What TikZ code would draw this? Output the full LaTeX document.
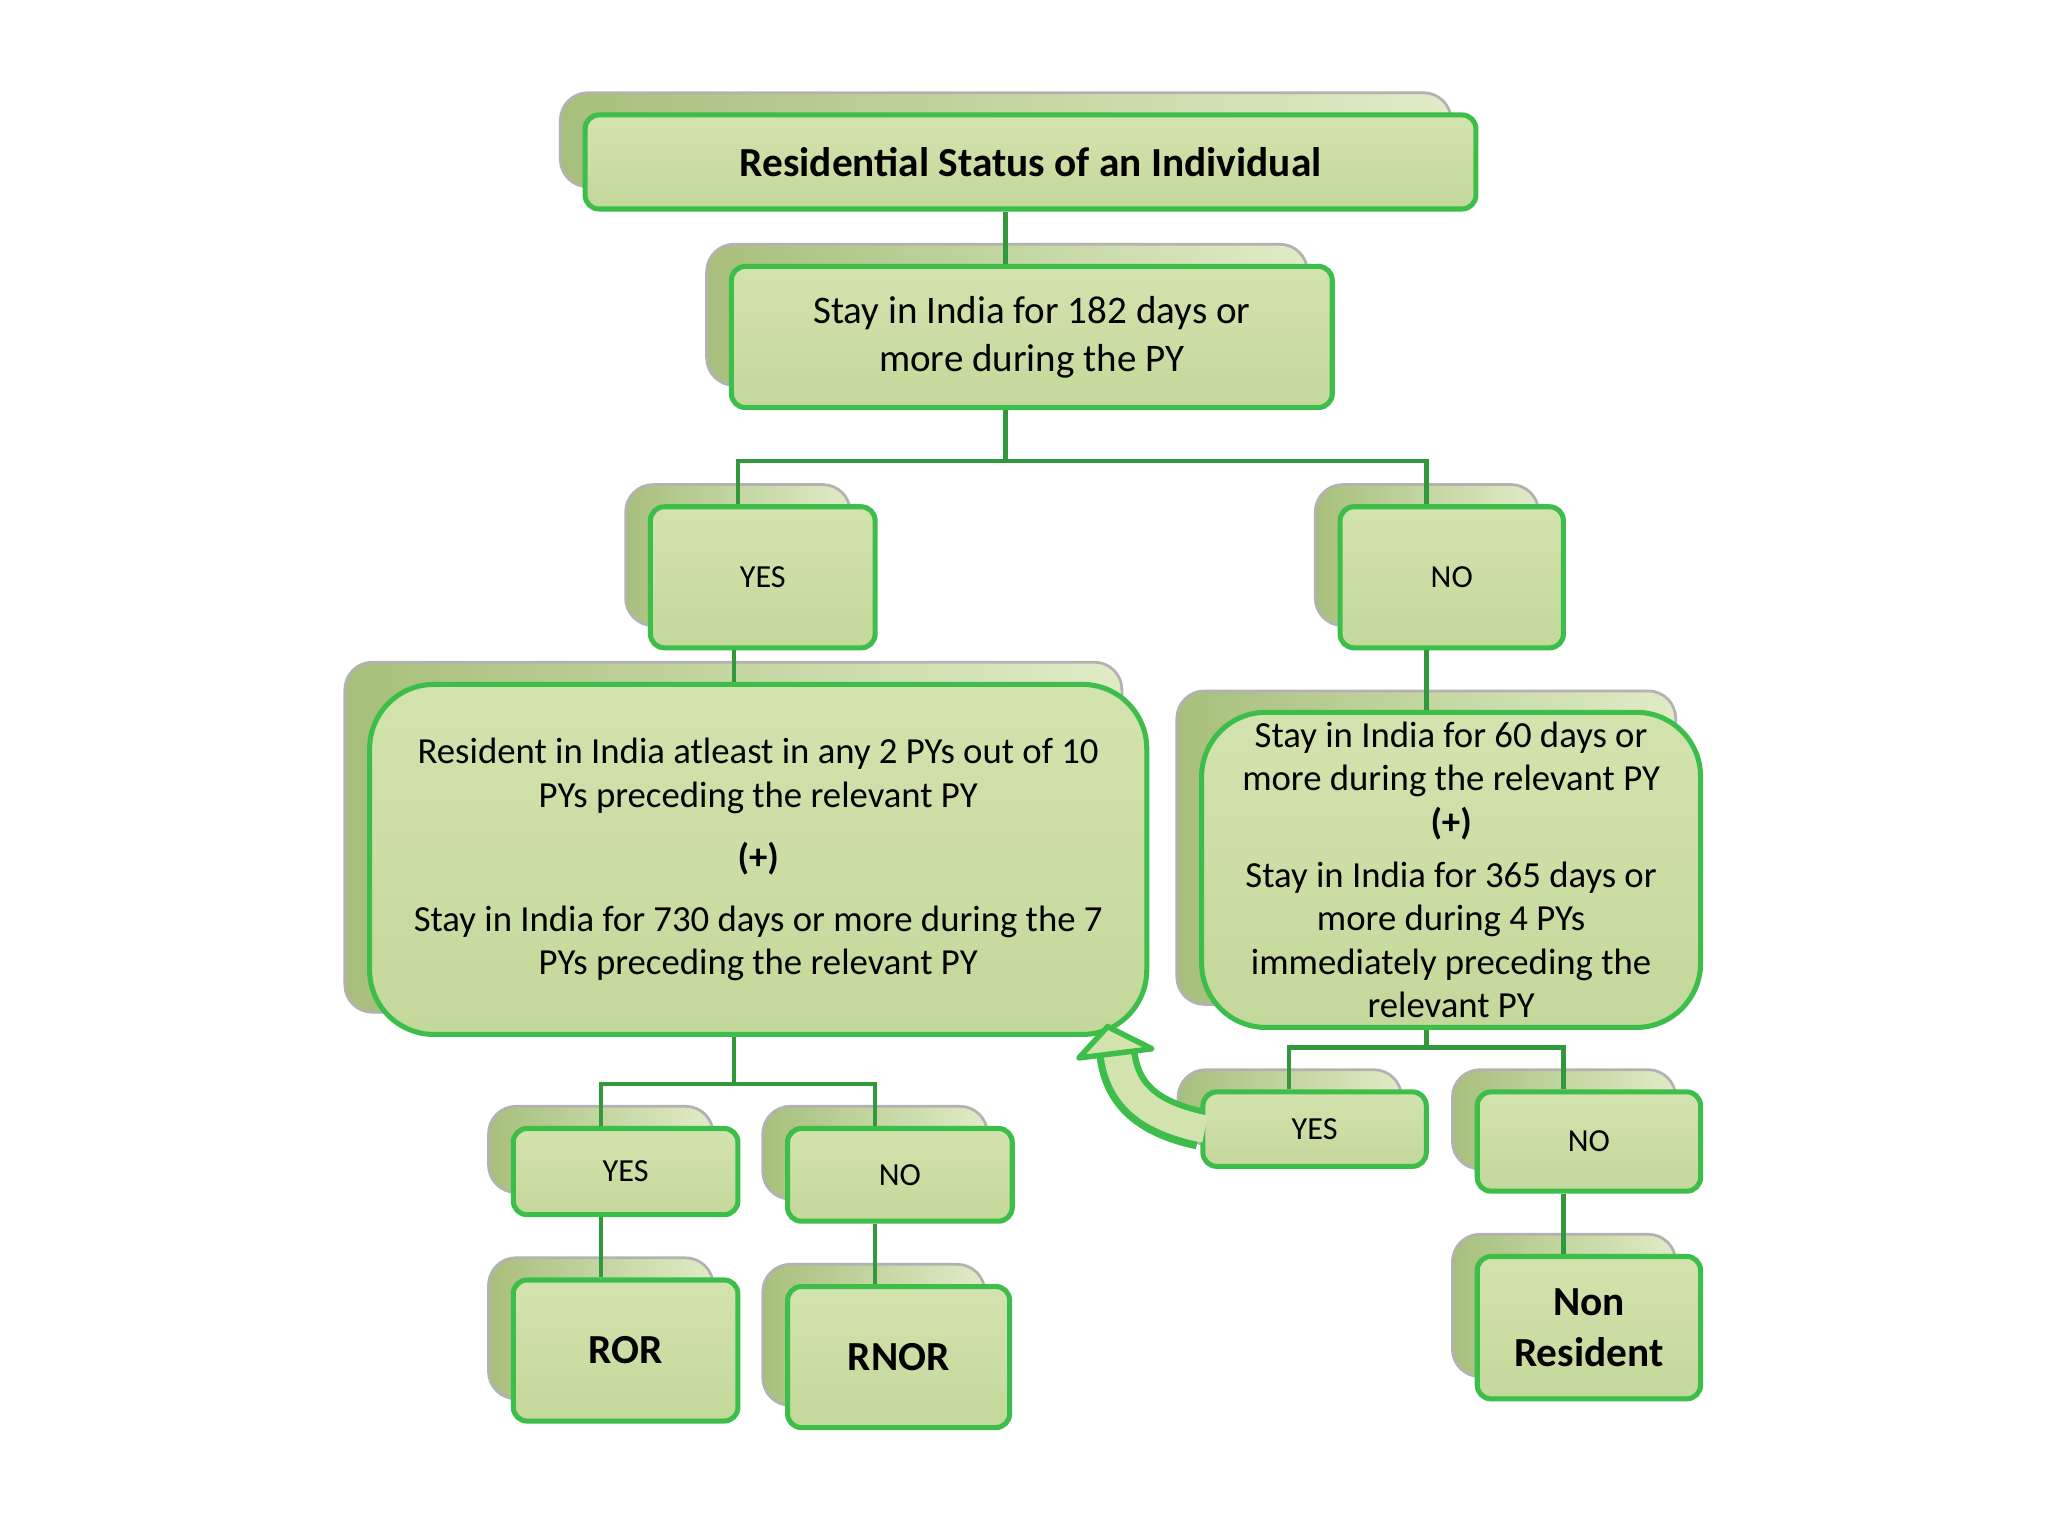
\documentclass[tikz,border=0pt]{standalone}
\usepackage{fontspec}
\setmainfont{Carlito}
\begin{document}
\definecolor{gb}{HTML}{3DBE4B}
\definecolor{lf}{HTML}{D3E3AE}
\definecolor{lf2}{HTML}{C3D89A}
\definecolor{bk}{HTML}{A7BF7C}
\begin{tikzpicture}[x=0.01cm,y=-0.01cm,
  front/.style={draw=gb,line width=1.1pt,rounded corners=3pt,top color=lf,bottom color=lf2,align=center,inner sep=2pt,font=\fontsize{8}{9.5}\selectfont},
  back/.style={draw=gray!60,line width=0.6pt,rounded corners=6pt,left color=bk,right color=lf!70},
  conn/.style={draw=gb!80!black,line width=1pt}]
\useasboundingbox (0,0) rectangle (1568,1176);
\newcommand\mybox[7][]{%
  \path[back] (#3-19,#4-17) rectangle (#5-19,#6-17);
  \node[front,#1,minimum width={(#5-#3)*0.01cm},minimum height={(#6-#4)*0.01cm}] (#2) at ({(#3+#5)/2},{(#4+#6)/2}) {#7};}
\mybox[font=\bfseries\fontsize{9}{11}\selectfont]{title}{448}{88}{1130}{160}{Residential Status of an Individual}
\mybox[font=\fontsize{8.5}{10.5}\selectfont]{s182}{560}{204}{1020}{312}{Stay in India for 182 days or\\more during the PY}
\mybox[font=\fontsize{7}{9}\selectfont]{yes1}{498}{388}{670}{496}{YES}
\mybox[font=\fontsize{7}{9}\selectfont]{no1}{1026}{388}{1197}{496}{NO}
\mybox[rounded corners=14pt]{left}{283}{524}{878}{792}{Resident in India atleast in any 2 PYs out of 10\\PYs preceding the relevant PY\\[4pt]\textbf{(+)}\\[4pt]Stay in India for 730 days or more during the 7\\PYs preceding the relevant PY}
\mybox[rounded corners=14pt]{right}{920}{546}{1302}{786}{Stay in India for 60 days or\\more during the relevant PY\\\textbf{(+)}\\[2pt]Stay in India for 365 days or\\more during 4 PYs\\immediately preceding the\\relevant PY}
\mybox[font=\fontsize{7}{9}\selectfont]{yes2}{393}{864}{565}{930}{YES}
\mybox[font=\fontsize{7}{9}\selectfont]{no2}{603}{864}{775}{935}{NO}
\mybox[font=\bfseries\fontsize{9}{11}\selectfont]{ror}{393}{980}{565}{1088}{ROR}
\mybox[font=\bfseries\fontsize{9}{11}\selectfont]{rnor}{603}{985}{773}{1093}{RNOR}
\mybox[font=\fontsize{7}{9}\selectfont]{yes3}{921}{836}{1092}{893}{YES}
\mybox[font=\fontsize{7}{9}\selectfont]{no3}{1131}{836}{1302}{912}{NO}
\mybox[font=\bfseries\fontsize{9}{11}\selectfont]{nr}{1131}{962}{1302}{1071}{Non\\Resident}
% connectors
\draw[conn] (title.south -| 770,0) -- (s182.north -| 770,0);
\coordinate (j1) at (770,353);
\draw[conn] (s182.south -| j1) -- (j1);
\draw[conn] (yes1.north -| 565,0) |- (j1) -| (no1.north -| 1092,0);
\draw[conn] (yes1.south -| 562,0) -- (left.north -| 562,0);
\draw[conn] (no1.south -| 1092,0) -- (right.north -| 1092,0);
\coordinate (j2) at (562,830);
\draw[conn] (left.south -| j2) -- (j2);
\draw[conn] (yes2.north -| 460,0) |- (j2) -| (no2.north -| 670,0);
\draw[conn] (yes2.south -| 460,0) -- (ror.north -| 460,0);
\draw[conn] (no2.south -| 670,0) -- (rnor.north -| 670,0);
\coordinate (j3) at (1092,802);
\draw[conn] (right.south -| j3) -- (j3);
\draw[conn] (yes3.north -| 987,0) |- (j3) -| (no3.north -| 1197,0);
\draw[conn] (no3.south -| 1197,0) -- (nr.north -| 1197,0);
% curved arrow
\draw[gb,line width=9pt] (yes3.west) .. controls (875,855) and (858,835) .. (855,805);
\draw[lf,line width=6pt] ([xshift=1pt]yes3.west) .. controls (875,855) and (858,835) .. (855,803);
\draw[gb,line width=1.2pt,fill=lf,line join=round] (826,810) -- (848,786) -- (882,803) -- cycle;
\end{tikzpicture}
\end{document}
